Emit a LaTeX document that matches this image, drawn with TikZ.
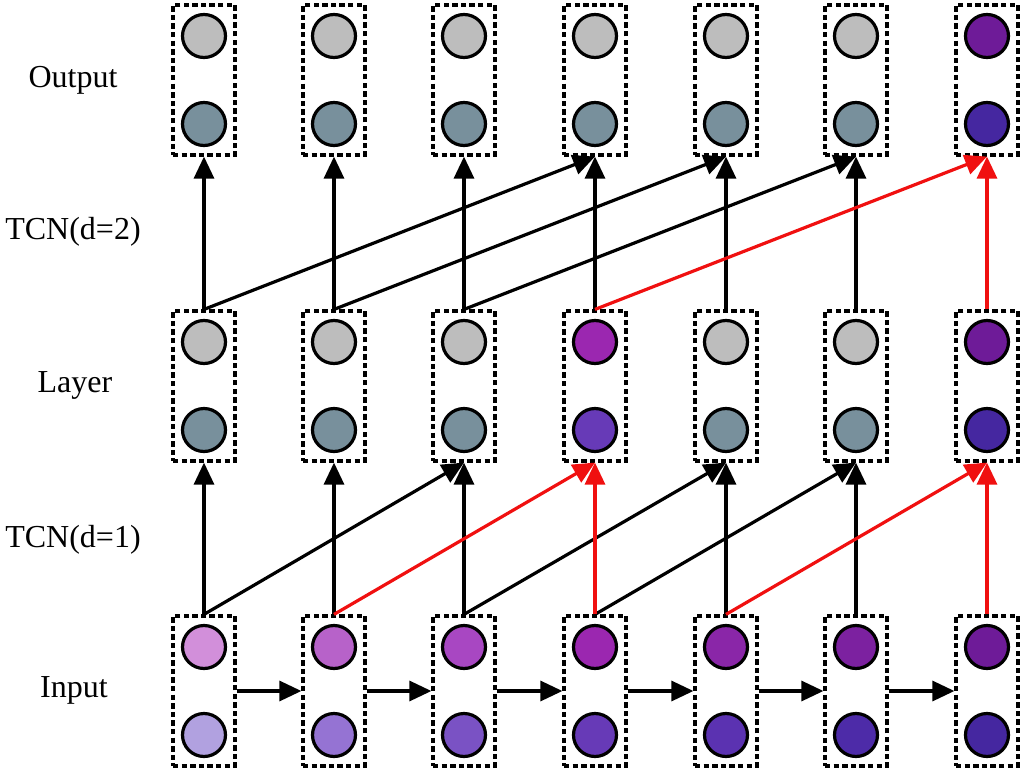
\documentclass[tikz,border=0pt]{standalone}
\usepackage{fontspec}
\setmainfont{Liberation Serif}
\usepackage{tikz}
\usetikzlibrary{arrows.meta,positioning}
\definecolor{dotgray}{HTML}{BDBDBD}
\definecolor{dotslate}{HTML}{78909C}
\definecolor{ptopa}{HTML}{D28FDA}
\definecolor{ptopb}{HTML}{B762C9}
\definecolor{ptopc}{HTML}{A847C2}
\definecolor{ptopd}{HTML}{9B27B0}
\definecolor{ptope}{HTML}{8A26A8}
\definecolor{ptopf}{HTML}{7C21A0}
\definecolor{ptopg}{HTML}{6E1B98}
\definecolor{pbota}{HTML}{B1A1E0}
\definecolor{pbotb}{HTML}{9573D3}
\definecolor{pbotc}{HTML}{7A52C4}
\definecolor{pbotd}{HTML}{673AB7}
\definecolor{pbote}{HTML}{5B32B1}
\definecolor{pbotf}{HTML}{4D2BA8}
\definecolor{pbotg}{HTML}{4527A0}
\definecolor{hotred}{HTML}{F01010}
\tikzset{
  cell/.style ={draw,dash pattern=on 2.7pt off 1.6pt,line width=1.6pt,
                minimum width=31pt,minimum height=75pt,inner sep=0pt},
  dot/.style  ={circle,draw,line width=1.6pt,minimum size=21.5pt,inner sep=0pt},
  link/.style ={-{Triangle[length=11pt,width=10pt]},line width=1.6pt,draw=black},
  hot/.style  ={link,draw=hotred},
  lbl/.style  ={font=\fontsize{16}{19}\selectfont}
}
\begin{document}
\begin{tikzpicture}[x=0.5pt,y=-0.5pt]
    \useasboundingbox (0,0) rectangle (1025,772);
    % row labels
    \node[lbl] (lout) at (73,80)  {Output};
    \node[lbl] (ltwo) at (73,232) {TCN(d=2)};
    \node[lbl] (llay) at (75,385) {Layer};
    \node[lbl] (lone) at (73,540) {TCN(d=1)};
    \node[lbl] (linp) at (74,690) {Input};
    % dashed cells
    \foreach \i/\x in {0/204,1/334,2/464,3/595,4/726,5/856,6/987} {
      \node[cell] (in\i)  at (\x,691) {};
      \node[cell] (lay\i) at (\x,386) {};
      \node[cell] (out\i) at (\x,80)  {};
    }
    % input dots
    \foreach \i/\ct/\cb in {0/ptopa/pbota,1/ptopb/pbotb,2/ptopc/pbotc,3/ptopd/pbotd,
                            4/ptope/pbote,5/ptopf/pbotf,6/ptopg/pbotg} {
      \node[dot,fill=\ct] (it\i) at ([yshift=22pt]in\i.center) {};
      \node[dot,fill=\cb] (ib\i) at ([yshift=-22pt]in\i.center) {};
    }
    % layer and output dots
    \foreach \i/\lt/\lb/\ot/\ob in {0/dotgray/dotslate/dotgray/dotslate,
                                    1/dotgray/dotslate/dotgray/dotslate,
                                    2/dotgray/dotslate/dotgray/dotslate,
                                    3/ptopd/pbotd/dotgray/dotslate,
                                    4/dotgray/dotslate/dotgray/dotslate,
                                    5/dotgray/dotslate/dotgray/dotslate,
                                    6/ptopg/pbotg/ptopg/pbotg} {
      \node[dot,fill=\lt] (lt\i) at ([yshift=22pt]lay\i.center) {};
      \node[dot,fill=\lb] (lb\i) at ([yshift=-22pt]lay\i.center) {};
      \node[dot,fill=\ot] (ot\i) at ([yshift=22pt]out\i.center) {};
      \node[dot,fill=\ob] (ob\i) at ([yshift=-22pt]out\i.center) {};
    }
    % input chain
    \foreach \i [evaluate=\i as \j using int(\i+1)] in {0,...,5}
      \draw[link] (in\i.east) -- (in\j.west);
    % TCN d=1
    \foreach \i in {0,1,2,4,5} \draw[link] (in\i.north) -- (lay\i.south);
    \foreach \i [evaluate=\i as \j using int(\i+2)] in {0,2,3}
      \draw[link] (in\i.north) -- (lay\j.south);
    \foreach \i in {3,6} \draw[hot] (in\i.north) -- (lay\i.south);
    \foreach \i [evaluate=\i as \j using int(\i+2)] in {1,4}
      \draw[hot] (in\i.north) -- (lay\j.south);
    % TCN d=2
    \foreach \i in {0,...,5} \draw[link] (lay\i.north) -- (out\i.south);
    \foreach \i [evaluate=\i as \j using int(\i+3)] in {0,1,2}
      \draw[link] (lay\i.north) -- (out\j.south);
    \draw[hot] (lay6.north) -- (out6.south);
    \draw[hot] (lay3.north) -- (out6.south);
\end{tikzpicture}
\end{document}
